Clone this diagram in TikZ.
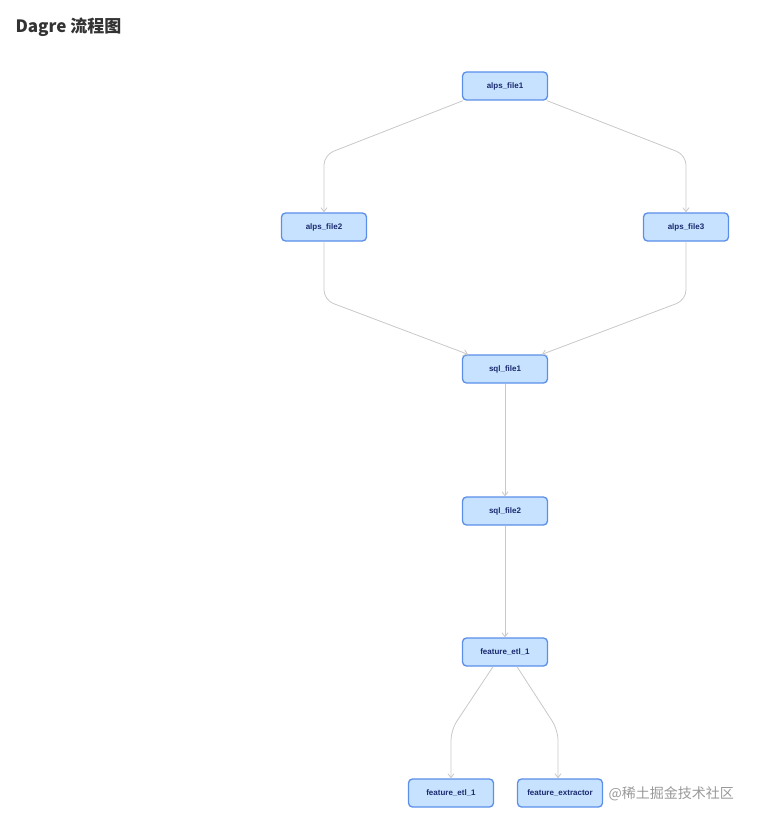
\documentclass[tikz,border=0pt]{standalone}
\usepackage{fontspec}
\setmainfont{Liberation Sans}
\newfontfamily\cjk{Noto Sans CJK SC}
\usetikzlibrary{arrows.meta}
\definecolor{nfill}{HTML}{C6E2FF}
\definecolor{nline}{HTML}{5B8FE8}
\definecolor{ntext}{HTML}{1A2A6E}
\definecolor{eline}{HTML}{C8C8C8}
\begin{document}
\begin{tikzpicture}[x=1pt,y=-1pt,
  nbox/.style={draw=nline,fill=nfill,line width=1.3pt,rounded corners=4pt,minimum width=85pt,minimum height=28pt,inner sep=0pt,font=\bfseries\fontsize{8}{9}\selectfont,text=ntext},
  edge/.style={draw=eline,line width=0.8pt,rounded corners=10pt,-{Straight Barb[length=4pt,width=6pt]}}]
\useasboundingbox (0,0) rectangle (775,826);
\node[anchor=west,font=\cjk\bfseries\fontsize{17}{20}\selectfont,text=black!80] (title) at (12,27) {Dagre 流程图};
\node[nbox] (a1) at (505,86) {alps\_file1};
\node[nbox] (a2) at (324,227) {alps\_file2};
\node[nbox] (a3) at (686,227) {alps\_file3};
\node[nbox] (s1) at (505,369) {sql\_file1};
\node[nbox] (s2) at (505,511) {sql\_file2};
\node[nbox] (f1) at (505,652) {feature\_etl\_1};
\node[nbox] (f2) at (451,793) {feature\_etl\_1};
\node[nbox] (fx) at (560,793) {feature\_extractor};
\node[anchor=west,font=\cjk\fontsize{14}{16}\selectfont,text=black!40] (wm) at (605,794) {@稀土掘金技术社区};
\path[edge] ([xshift=-42pt]a1.south) -- (324,155) -- (a2.north);
\path[edge] ([xshift=42pt]a1.south) -- (686,155) -- (a3.north);
\path[edge] (a2.south) -- (324,300) -- ([xshift=-37pt]s1.north);
\path[edge] (a3.south) -- (686,300) -- ([xshift=37pt]s1.north);
\path[edge] (s1) -- (s2);
\path[edge] (s2) -- (f1);
\path[edge] ([xshift=-12pt]f1.south) -- (451,730) -- (f2.north);
\path[edge] ([xshift=12pt]f1.south) -- (558,730) -- ([xshift=-2pt]fx.north);
\end{tikzpicture}
\end{document}
